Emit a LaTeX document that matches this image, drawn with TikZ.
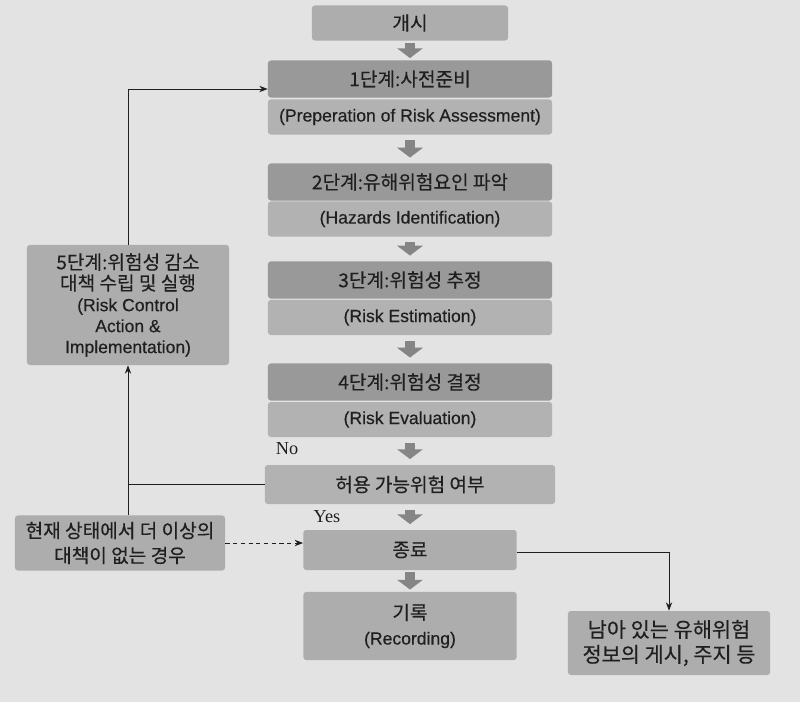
\documentclass[tikz,border=0pt]{standalone}
\usepackage{fontspec}
\setmainfont{Noto Sans CJK KR}[FakeBold=0.3]
\newfontfamily\latinfont{Liberation Sans}[FakeBold=0.4]
\newfontfamily\serifont{Liberation Serif}
\newcommand\eng{\latinfont\fontsize{12.5}{14.7}\selectfont}
\usetikzlibrary{arrows.meta}

\definecolor{pagegray}{gray}{0.89}
\definecolor{stagegray}{gray}{0.60}
\definecolor{notegray}{gray}{0.70}
\definecolor{boxgray}{gray}{0.68}
\definecolor{arrowgray}{gray}{0.52}
\definecolor{inkgray}{gray}{0.12}

\begin{document}
\begin{tikzpicture}[x=0.025cm, y=-0.025cm,
    box/.style={fill=#1, rounded corners=2pt, text=inkgray, align=center, inner sep=2pt,
      font=\fontsize{13.6}{14.9}\selectfont},
    stage/.style={box=stagegray, minimum width=7.1cm, minimum height=0.925cm},
    stagenote/.style={box=notegray, minimum width=7.1cm, minimum height=0.875cm},
    wide/.style={font=\fontsize{13.6}{17.7}\selectfont},
    flow/.style={draw=arrowgray, line width=7pt, -{Triangle[width=18pt, length=7pt]},
      shorten <=4pt, shorten >=4pt},
    link/.style={draw=inkgray, line width=0.6pt},
    tip/.style={-{Stealth[length=6pt, width=4.5pt]}},
    answer/.style={font=\serifont\fontsize{13}{15}\selectfont, text=inkgray}]

  \fill[pagegray] (0,0) rectangle (800,702);

  % main column
  \node[box=boxgray, minimum width=4.9cm, minimum height=0.875cm] (start) at (410,23) {개시};
  \node[stage] (s1) at (410,79) {1단계:사전준비};
  \node[stagenote] (s1e) at (410,117) {\eng (Preperation of Risk Assessment)};
  \node[stage] (s2) at (410,182) {2단계:유해위험요인 파악};
  \node[stagenote] (s2e) at (410,219) {\eng (Hazards Identification)};
  \node[stage] (s3) at (410,280) {3단계:위험성 추정};
  \node[stagenote] (s3e) at (410,317.5) {\eng (Risk Estimation)};
  \node[stage] (s4) at (410,382) {4단계:위험성 결정};
  \node[stagenote] (s4e) at (410,419.5) {\eng (Risk Evaluation)};
  \node[box=notegray, minimum width=7.25cm, minimum height=0.975cm] (check) at (410,484.5) {허용 가능위험 여부};
  \node[box=boxgray, minimum width=5.33cm, minimum height=1cm] (stop) at (410,550) {종료};
  \node[box=boxgray, wide, minimum width=5.33cm, minimum height=1.7cm] (rec) at (410,626)
    {기록\\\eng (Recording)};

  % side boxes
  \node[box=boxgray, minimum width=5.05cm, minimum height=3cm] (s5) at (128,305)
    {5단계:위험성 감소\\대책 수립 및 실행\\\eng (Risk Control\\\eng Action \&\\\eng Implementation)};
  \node[box=boxgray, wide, minimum width=5.25cm, minimum height=1.375cm] (nomore) at (120,543)
    {현재 상태에서 더 이상의\\대책이 없는 경우};
  \node[box=boxgray, font=\fontsize{14.8}{17.7}\selectfont, minimum width=5.05cm, minimum height=1.6cm]
    (rest) at (669,643) {남아 있는 유해위험\\정보의 게시, 주지 등};

  \node[answer] (no) at (287,449) {No};
  \node[answer] (yes) at (327,517) {Yes};

  % block arrows
  \draw[flow, shorten <=1.5pt, shorten >=1.5pt] (start.south) -- (s1.north);
  \draw[flow] (s1e.south) -- (s2.north);
  \draw[flow] (s2e.south) -- (s3.north);
  \draw[flow] (s3e.south) -- (s4.north);
  \draw[flow] (s4e.south) -- (check.north);
  \draw[flow] (check.south) -- (stop.north);
  \draw[flow, shorten <=1.5pt, shorten >=1.5pt] (stop.south) -- (rec.north);

  % lines
  \coordinate (turn) at (s5.south |- check.west);
  \draw[link, tip] (check.west) -- (turn) -- (s5.south);
  \draw[link] (turn) -- (turn |- nomore.north);
  \draw[link, tip] (s5.north) |- ([yshift=-0.25cm]s1.west);
  \draw[link, tip, dash pattern=on 3pt off 2.5pt] (nomore.east) -- (nomore.east -| stop.west);
  \draw[link, tip] ([yshift=-0.05cm]stop.east) -| (rest.north);
\end{tikzpicture}
\end{document}
